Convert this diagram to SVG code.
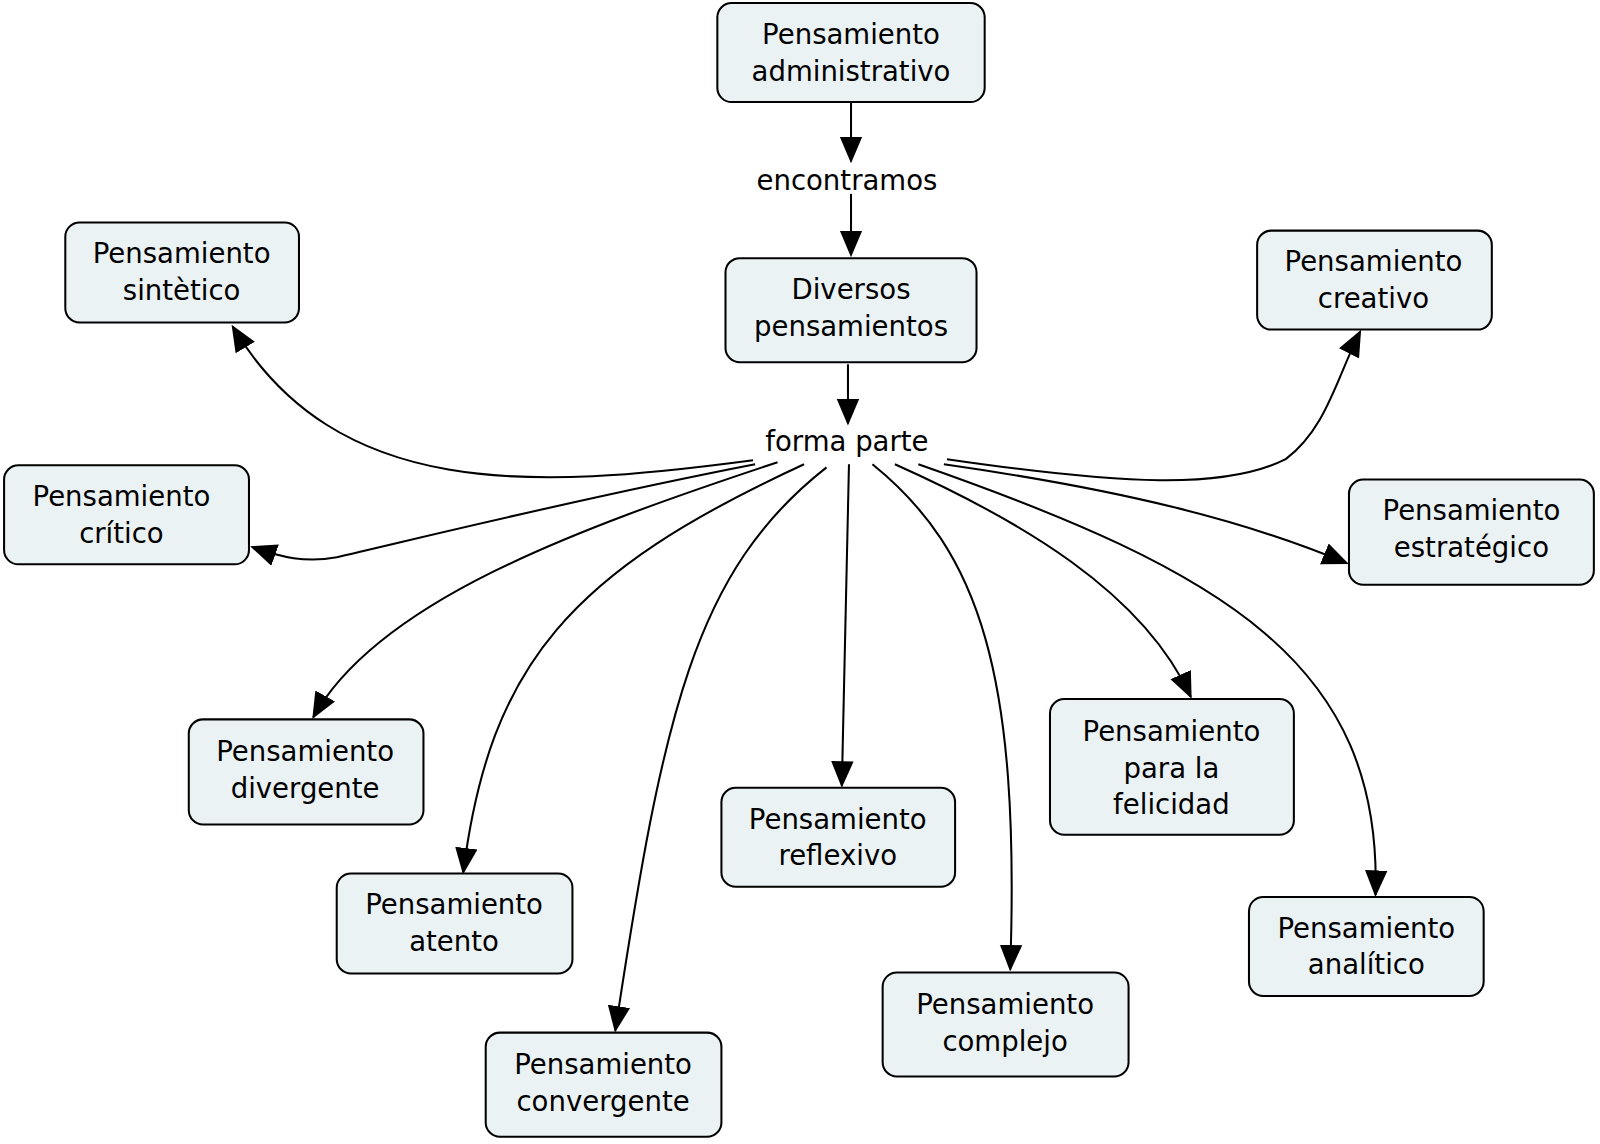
<svg xmlns="http://www.w3.org/2000/svg" width="1600" height="1144" viewBox="0 0 1600 1144">
<style>
.n rect{fill:#ebf2f4;stroke:#000;stroke-width:2}
text{font-family:"DejaVu Sans",Verdana,sans-serif;font-size:27px;text-anchor:middle;fill:#000}
.c path{fill:none;stroke:#000;stroke-width:2;marker-end:url(#a)}
</style>
<defs><marker id="a" markerUnits="userSpaceOnUse" markerWidth="26" markerHeight="26" viewBox="0 0 26 26" refX="24" refY="13" orient="auto"><path d="M0,2 L26,13 L0,24 Z" fill="#000"/></marker></defs>
<rect width="1600" height="1144" fill="#fff"/>
<g transform="scale(1.0204)">
<g class="c">
<path d="M834,100 L834,158"/>
<path d="M834,190 L834,250"/>
<path d="M831,357 L831,415"/>
<path d="M738,451 C520,480 330,490 228,320"/>
<path d="M740,455 C560,490 400,530 330,546 C300,552 275,546 247,536"/>
<path d="M762,453 C560,520 370,590 307,703"/>
<path d="M788,455 C560,560 480,650 454,855"/>
<path d="M810,458 C680,560 650,700 603,1010"/>
<path d="M832,455 L825,770"/>
<path d="M855,455 C960,540 1000,660 990,950"/>
<path d="M877,455 C1000,510 1120,580 1167,683"/>
<path d="M900,455 C1200,560 1355,650 1348,877"/>
<path d="M925,455 C1100,480 1220,510 1320,552"/>
<path d="M928,450 C1100,475 1200,480 1260,450 C1300,420 1310,370 1333,325"/>
</g>
<text x="830" y="186">encontramos</text>
<text x="830" y="442">forma parte</text>
<g id="n1" class="n"><rect x="703" y="3" width="262" height="97" rx="14"/><text x="834" y="43">Pensamiento</text><text x="834" y="79">administrativo</text></g>
<g id="n2" class="n"><rect x="711" y="253" width="246" height="102" rx="14"/><text x="834" y="293">Diversos</text><text x="834" y="329">pensamientos</text></g>
<g id="n3" class="n"><rect x="64" y="218" width="229" height="98" rx="14"/><text x="178" y="258">Pensamiento</text><text x="178" y="294">sintètico</text></g>
<g id="n4" class="n"><rect x="1232" y="226" width="230" height="97" rx="14"/><text x="1346" y="266">Pensamiento</text><text x="1346" y="302">creativo</text></g>
<g id="n5" class="n"><rect x="4" y="456" width="240" height="97" rx="14"/><text x="119" y="496">Pensamiento</text><text x="119" y="532">crítico</text></g>
<g id="n6" class="n"><rect x="1322" y="470" width="240" height="103" rx="14"/><text x="1442" y="510">Pensamiento</text><text x="1442" y="546">estratégico</text></g>
<g id="n7" class="n"><rect x="185" y="705" width="230" height="103" rx="14"/><text x="299" y="746">Pensamiento</text><text x="299" y="782">divergente</text></g>
<g id="n8" class="n"><rect x="330" y="856" width="231" height="98" rx="14"/><text x="445" y="896">Pensamiento</text><text x="445" y="932">atento</text></g>
<g id="n9" class="n"><rect x="476" y="1012" width="231" height="102" rx="14"/><text x="591" y="1053">Pensamiento</text><text x="591" y="1089">convergente</text></g>
<g id="n10" class="n"><rect x="707" y="772" width="229" height="97" rx="14"/><text x="821" y="812">Pensamiento</text><text x="821" y="848">reflexivo</text></g>
<g id="n11" class="n"><rect x="865" y="953" width="241" height="102" rx="14"/><text x="985" y="994">Pensamiento</text><text x="985" y="1030">complejo</text></g>
<g id="n12" class="n"><rect x="1029" y="685" width="239" height="133" rx="14"/><text x="1148" y="726">Pensamiento</text><text x="1148" y="762">para la</text><text x="1148" y="798">felicidad</text></g>
<g id="n13" class="n"><rect x="1224" y="879" width="230" height="97" rx="14"/><text x="1339" y="919">Pensamiento</text><text x="1339" y="955">analítico</text></g>
</g>
</svg>
